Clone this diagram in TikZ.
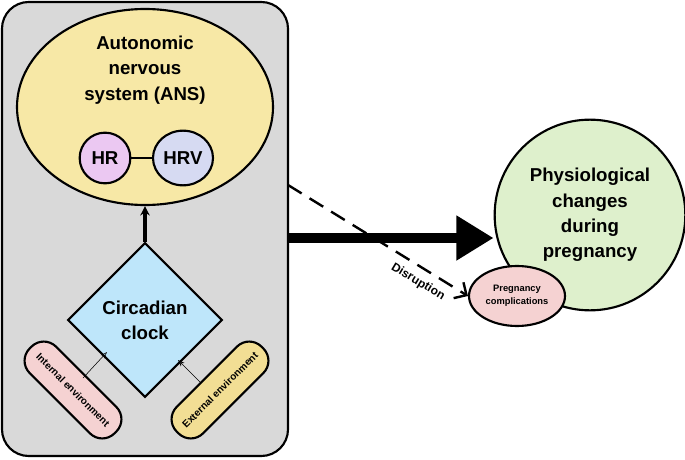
\documentclass[tikz,border=0pt]{standalone}
\usepackage{fontspec}
\setmainfont{Liberation Sans}
\usetikzlibrary{shapes.geometric,arrows.meta}
\definecolor{ansyellow}{HTML}{F7E8A6}
\definecolor{hrpink}{HTML}{EBC8F2}
\definecolor{hrvblue}{HTML}{D6DAF2}
\definecolor{clockblue}{HTML}{BEE6FA}
\definecolor{physgreen}{HTML}{DEF0CC}
\definecolor{comppink}{HTML}{F5D2D2}
\definecolor{extyellow}{HTML}{F2DE94}
\begin{document}
\begin{tikzpicture}[x=0.75pt,y=0.75pt,yscale=-1,xscale=1,
  blob/.style={draw,line width=1.6pt,ellipse,inner sep=0pt,font=\bfseries},
  pill/.style={draw,line width=1.6pt,rounded corners=13pt,minimum width=90pt,minimum height=28pt,fill=#1,font=\bfseries\fontsize{7.5}{8}\selectfont}]
\useasboundingbox (0,0) rectangle (685,460);

% box
\draw[line width=1.6pt,fill=black!15,rounded corners=20pt] (2,2) rectangle (288,456);

% Autonomic nervous system
\node[blob,fill=ansyellow,minimum width=192pt,minimum height=147pt] (ans) at (145,107) {};
\node[font=\bfseries\fontsize{14}{19}\selectfont,align=center] (anstxt) at (145,70) {Autonomic\\nervous\\system (ANS)};
\node[blob,fill=hrpink,minimum width=38pt,minimum height=38pt,font=\bfseries\fontsize{14}{16}\selectfont] (hr) at (105,158) {HR};
\node[blob,fill=hrvblue,minimum width=45pt,minimum height=41pt,font=\bfseries\fontsize{14}{16}\selectfont] (hrv) at (183,158) {HRV};
\draw[line width=1.6pt] (hr) -- (hrv);

% Circadian clock
\node[draw,line width=1.6pt,diamond,fill=clockblue,minimum width=116pt,minimum height=116pt,inner sep=0pt,font=\bfseries\fontsize{14}{19}\selectfont,align=center] (clock) at (145,320) {Circadian\\clock};
\draw[line width=2.4pt,-{Stealth[length=7pt,width=7pt]}] (clock.north) -- (ans.south);

% environments
\node[pill=comppink,rotate=-45] (intenv) at (73,390) {Internal environment};
\node[pill=extyellow,rotate=45] (extenv) at (220,390) {External environment};
\coordinate (intend) at (107,352);
\coordinate (extend) at (178,360);
\draw[-{Stealth[open,length=5pt]},thin] (83,378) -- (intend);
\draw[-{Stealth[open,length=5pt]},thin] (201,383) -- (extend);

% Physiological changes
\node[blob,fill=physgreen,minimum width=143pt,minimum height=143pt,font=\bfseries\fontsize{14}{19}\selectfont,align=center] (phys) at (590,215) {Physiological\\changes\\during\\pregnancy};
\node[blob,fill=comppink,minimum width=72pt,minimum height=45pt,font=\bfseries\fontsize{7}{10}\selectfont,align=center] (comp) at (517,296) {Pregnancy\\complications};

% arrows
\coordinate (boxright) at (288,238);
\coordinate (boxdash) at (288,185);
\draw[line width=7pt,-{Triangle[length=28pt,width=32pt]}] (boxright) -- (phys.west |- boxright);
\draw[line width=1.8pt,dash pattern=on 12pt off 7pt,-{Straight Barb[length=7pt]}] (boxdash) -- (comp.west);
\node[rotate=-31,font=\bfseries\fontsize{9}{10}\selectfont] (disr) at (418,282) {Disruption};
\end{tikzpicture}
\end{document}
